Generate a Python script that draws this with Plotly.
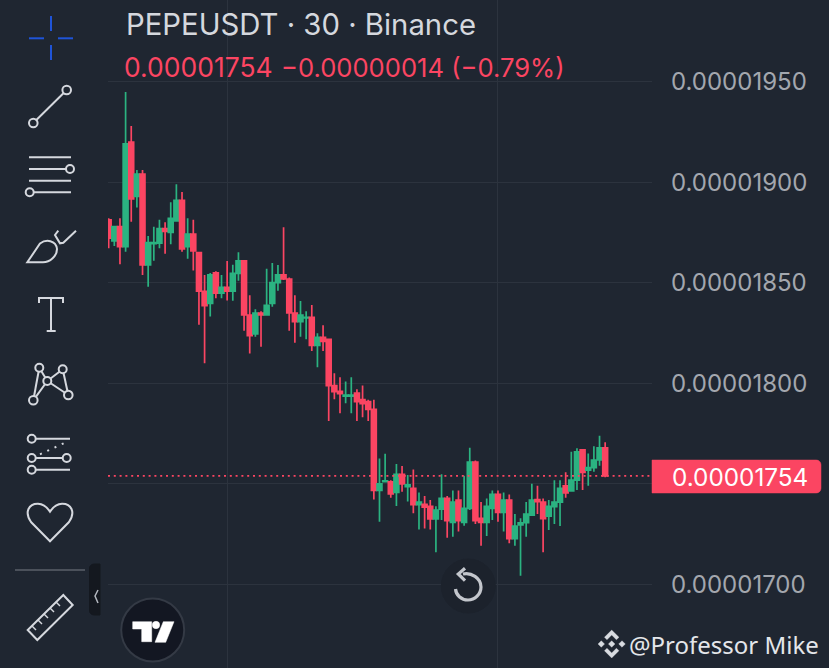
import numpy as np
import plotly.graph_objects as go

# prices below are in units of 0.00000001
open_ = [1881.3, 1870.8, 1877.9, 1868.0, 1920.0, 1892.9, 1904.1, 1858.9, 1869.5, 1869.7, 1877.0, 1875.0, 1880.8,
         1891.0, 1868.0, 1874.2, 1865.0, 1845.8, 1839.8, 1854.9, 1844.8, 1847.8, 1845.8, 1854.7, 1860.9, 1834.0,
         1824.6, 1835.0, 1834.0, 1839.8, 1850.1, 1853.9, 1851.9, 1835.0, 1830.7, 1832.5, 1832.8, 1818.9, 1822.9,
         1821.9, 1798.9, 1796.1, 1793.7, 1793.7, 1795.2, 1791.9, 1790.9, 1787.1, 1746.8, 1751.2, 1751.1, 1745.8,
         1754.8, 1748.6, 1747.8, 1739.7, 1739.8, 1738.9, 1732.6, 1737.5, 1742.8, 1730.9, 1742.0, 1730.9, 1737.9,
         1760.9, 1732.9, 1730.9, 1737.9, 1744.8, 1735.9, 1742.0, 1722.8, 1729.7, 1730.7, 1734.5, 1742.2, 1741.0,
         1734.0, 1738.7, 1741.0, 1749.1, 1746.6, 1751.9, 1766.9, 1756.9, 1758.1, 1761.9, 1768.0]
high = [1882.1, 1877.9, 1882.1, 1944.9, 1928.0, 1906.1, 1906.1, 1873.3, 1877.9, 1881.3, 1880.1, 1890.0, 1899.0,
        1895.2, 1882.1, 1881.3, 1865.4, 1853.9, 1854.9, 1855.7, 1853.9, 1860.9, 1859.0, 1865.2, 1860.9, 1843.8,
        1836.8, 1835.8, 1857.0, 1859.8, 1858.8, 1877.6, 1852.7, 1843.8, 1840.9, 1835.8, 1839.0, 1824.9, 1828.9,
        1821.9, 1805.0, 1803.0, 1800.9, 1803.0, 1797.1, 1798.9, 1791.9, 1791.9, 1762.7, 1765.0, 1751.9, 1759.9,
        1758.9, 1754.4, 1757.2, 1745.8, 1744.0, 1742.0, 1738.9, 1754.8, 1744.0, 1746.8, 1746.8, 1754.1, 1768.0,
        1761.7, 1741.0, 1742.8, 1746.8, 1746.8, 1745.8, 1744.8, 1735.0, 1732.9, 1741.0, 1750.1, 1749.1, 1742.8,
        1742.0, 1751.9, 1751.9, 1755.8, 1766.0, 1767.7, 1766.9, 1765.2, 1768.8, 1774.0, 1770.7]
low = [1867.2, 1868.3, 1859.2, 1865.4, 1880.4, 1887.4, 1853.9, 1848.1, 1861.0, 1867.2, 1864.4, 1869.2, 1880.8,
       1865.4, 1862.0, 1856.1, 1829.1, 1810.0, 1833.2, 1842.3, 1842.3, 1841.2, 1841.1, 1851.0, 1826.2, 1814.9,
       1823.2, 1818.2, 1834.0, 1838.1, 1846.1, 1851.4, 1826.2, 1820.2, 1823.2, 1822.0, 1816.1, 1808.0, 1816.1,
       1781.3, 1792.1, 1785.1, 1790.1, 1785.1, 1781.3, 1783.1, 1781.3, 1742.3, 1731.2, 1751.1, 1743.2, 1739.0,
       1746.1, 1741.3, 1735.4, 1727.4, 1727.9, 1727.4, 1716.0, 1732.1, 1723.3, 1723.8, 1726.3, 1729.2, 1737.0,
       1730.1, 1719.3, 1724.1, 1732.1, 1731.2, 1726.3, 1720.5, 1719.3, 1704.4, 1723.8, 1734.5, 1735.0, 1716.0,
       1727.1, 1730.1, 1729.1, 1743.2, 1747.0, 1747.0, 1747.0, 1749.1, 1756.1, 1759.1, 1753.3]
close = [1872.2, 1877.9, 1868.0, 1919.1, 1891.7, 1904.1, 1858.9, 1870.0, 1870.0, 1877.0, 1875.5, 1882.1, 1891.0,
         1866.9, 1874.2, 1865.9, 1845.8, 1838.7, 1853.9, 1844.8, 1847.8, 1845.8, 1854.7, 1860.9, 1834.0, 1823.7,
         1835.0, 1834.0, 1838.8, 1850.1, 1853.9, 1851.9, 1835.0, 1830.7, 1834.0, 1832.8, 1818.9, 1822.9, 1820.9,
         1798.9, 1795.9, 1794.9, 1794.2, 1794.2, 1790.9, 1789.9, 1787.1, 1746.8, 1750.1, 1751.6, 1745.0, 1754.8,
         1750.0, 1749.5, 1739.7, 1741.0, 1738.5, 1732.6, 1737.0, 1742.8, 1731.7, 1741.0, 1731.7, 1737.9, 1760.9,
         1731.7, 1730.9, 1738.9, 1744.8, 1735.9, 1742.0, 1722.8, 1729.1, 1730.7, 1735.0, 1742.0, 1741.2, 1732.7,
         1738.9, 1741.0, 1747.8, 1745.6, 1751.9, 1766.0, 1755.8, 1758.1, 1761.9, 1768.0, 1754.0]
price_ticks = [1700, 1750, 1800, 1850, 1900, 1950]
price_labels = ["0.00001700", "", "0.00001800", "0.00001850", "0.00001900", "0.00001950"]
time_grid = [21, 69]
last_price = 1754

bg = "#1f2631"
grid = "#2c333e"
red = "#fb4562"
green = "#2bb381"
icon = "#d5d8de"
font = "Inter"

x = list(range(len(close)))
unit = 1e-8

fig = go.Figure()
fig.add_trace(go.Candlestick(
    x=x,
    open=np.array(open_) * unit,
    high=np.array(high) * unit,
    low=np.array(low) * unit,
    close=np.array(close) * unit,
    increasing=dict(line=dict(color=green, width=1.7), fillcolor=green),
    decreasing=dict(line=dict(color=red, width=1.7), fillcolor=red),
    whiskerwidth=0,
    showlegend=False,
))

# second pair of axes covers the whole page in pixels, used for the app toolbar
shapes = []


def line(x0, y0, x1, y1, color=icon, width=2, dash="solid"):
    shapes.append(dict(type="line", xref="x2", yref="y2", x0=x0, y0=y0, x1=x1, y1=y1,
                       line=dict(color=color, width=width, dash=dash)))


def ring(cx, cy, r, fill=bg, color=icon, width=2):
    shapes.append(dict(type="circle", xref="x2", yref="y2", x0=cx - r, y0=cy - r, x1=cx + r, y1=cy + r,
                       fillcolor=fill, line=dict(color=color, width=width)))


def path(d, fill="rgba(0,0,0,0)", color=icon, width=2):
    shapes.append(dict(type="path", xref="x2", yref="y2", path=d, fillcolor=fill,
                       line=dict(color=color, width=width)))


# dotted last price line
shapes.append(dict(type="line", xref="x", yref="y", x0=-0.12, x1=96.3,
                   y0=last_price * unit, y1=last_price * unit,
                   line=dict(color=red, width=1.7, dash="2px,3.8px")))

# crosshair
for a, b in [(16, 31), (45, 60)]:
    line(51, a, 51, b, color="#1f54d8", width=2)
for a, b in [(29, 44), (58, 73)]:
    line(a, 38.3, b, 38.3, color="#1f54d8", width=2)
# trend line
line(33.3, 123, 66.7, 90)
ring(66.7, 90, 4.3)
ring(33.3, 123, 4.3)
# fib lines
line(29, 157.3, 71, 157.3)
line(29, 169, 68, 169)
line(29, 180.7, 71, 180.7)
line(33, 192.3, 71, 192.3)
ring(70, 169, 4)
ring(29.7, 192.3, 4)
# brush
path("M27.3,262.3 L40,243.5 C46,239 56,240 57,249 C57,256 50,262.3 43,262.3 Z")
path("M58.3,230.7 L55,235 L60,243.3 L63.3,242.7 L76,230.7")
# text
path("M39,303 L39,298 L63,298 L63,303")
line(51, 298, 51, 331)
line(46.7, 331, 55.7, 331)
# pattern
for a, b, c, d in [(39.3, 367.7, 33.3, 400.3), (39.3, 367.7, 47.3, 381), (33.3, 400.3, 47.3, 381),
                   (47.3, 381, 62.7, 369.3), (47.3, 381, 68.3, 395), (62.7, 369.3, 68.3, 395)]:
    line(a, b, c, d)
ring(39.3, 367.7, 4)
ring(62.7, 369.3, 4)
ring(47.3, 381, 4)
ring(33.3, 400.3, 4.3)
ring(68.3, 395, 4.3)
# forecast lines
line(36, 438.7, 70, 438.7)
line(36, 458, 62, 458)
line(36, 469.7, 70, 469.7)
line(40, 454.3, 65, 442.7, dash="2px,6px")
ring(31.7, 438.7, 4)
ring(31.7, 458, 4)
ring(66.7, 458, 4)
ring(31.7, 469.7, 4)
# heart
path("M50,541.3 L31,522 C24,512 29,503.5 38,503.7 C43,504 47,507 50,511.7 "
     "C53,507 57,504 62,503.7 C71,503.5 76,512 69,522 Z")
# separator
line(15, 570, 85, 570, color="#4b515b", width=2)
# ruler
path("M63.3,595 L72.7,605 L37.3,640 L27.7,630 Z")
for a, b, c, d in [(56, 602, 60, 606), (50, 608, 54, 612), (44, 614, 48, 618), (38, 620, 42, 624), (32, 626, 36, 630)]:
    line(a, b, c, d, width=1.5)
# collapse tab
path("M100,564 L95,564 C91,564 89.5,566 89.5,569 L89.5,610 C89.5,613 91,615 95,615 L100,615 Z",
     fill="#14181f", color="#14181f", width=1)
path("M98,590 L95,596 L98,603", color="#b4b8bf", width=1.5)
# logo button
ring(152.7, 630, 31.5, fill="#131722", color="#343a45", width=2)
path("M132.7,621.7 L151.7,621.7 L151.7,641.7 L141.7,641.7 L141.7,629 L132.7,629 Z", fill="#ffffff", color="#ffffff", width=0.5)
ring(156, 625, 3.7, fill="#ffffff", color="#ffffff", width=0.5)
path("M163.3,621.7 L174,621.7 L165.7,642.3 L155,642.3 Z", fill="#ffffff", color="#ffffff", width=0.5)
# replay button
ring(468.3, 586, 27, fill="#1c222c", color="#1c222c", width=1)
path("M463,574 C471,572 481,578 481,587 C481,594 475,600 468,600 C461,600 456,595 455.5,589",
     color="#c3c6cc", width=3.2)
path("M465,568.3 L458.3,574 L465,580.7", color="#c3c6cc", width=3.2)
# last price box
path("M652,460 L816,460 C819,460 821,462 821,465 L821,488 C821,491 819,493 816,493 L652,493 Z",
     fill=red, color=red, width=0.5)
# watermark diamonds
wm = "#d8dbe0"
for cx, cy in [(601.3, 644), (611.7, 644), (622, 644)]:
    path(f"M{cx - 3.3},{cy} L{cx},{cy - 3.3} L{cx + 3.3},{cy} L{cx},{cy + 3.3} Z", fill=wm, color=wm, width=0.3)
path("M611.7,630 L619,637.3 L616.4,639.8 L611.7,635 L607,639.8 L604.4,637.3 Z", fill=wm, color=wm, width=0.3)
path("M611.7,658 L619,650.7 L616.4,648.2 L611.7,653 L607,648.2 L604.4,650.7 Z", fill=wm, color=wm, width=0.3)


def text(x0, y0, s, size, color, anchor="left", family=font):
    return dict(xref="x2", yref="y2", x=x0, y=y0, text=s, showarrow=False, xanchor=anchor, yanchor="middle",
                font=dict(family=family, size=size, color=color))


annotations = [
    text(124, 24, "PEPEUSDT · 30 · Binance", 29.3, "#d5d8de"),
    text(122, 67, "0.00001754", 26.5, red),
    text(279, 67, "−0.00000014 (−0.79%)", 25.6, red),
    text(810, 476.5, "0.00001754", 24.3, "#ffffff", anchor="right"),
    text(821, 644, "@Professor Mike", 24, "#e4e6ea", anchor="right", family="Noto Sans"),
]

fig.update_layout(
    width=829,
    height=668,
    margin=dict(l=0, r=0, t=0, b=0),
    paper_bgcolor=bg,
    plot_bgcolor="rgba(0,0,0,0)",
    dragmode=False,
    boxgap=0.14,
    boxgroupgap=0,
    shapes=shapes,
    annotations=annotations,
    xaxis=dict(domain=[108 / 829, 652 / 829], range=[-0.12, 96.3], tickvals=time_grid, showticklabels=False,
               ticks="", showgrid=True, gridcolor=grid, gridwidth=1.3, zeroline=False, rangeslider=dict(visible=False),
               anchor="y"),
    yaxis=dict(domain=[0, 1], range=[1658.5 * unit, 1990.6 * unit], side="right", anchor="x",
               tickvals=[p * unit for p in price_ticks], ticktext=price_labels, ticklabelstandoff=18,
               ticks="", tickfont=dict(family=font, size=24, color="#a3a7ae"),
               showgrid=True, gridcolor=grid, gridwidth=1.3, zeroline=False),
    xaxis2=dict(domain=[0, 1], range=[0, 829], anchor="y2", visible=False),
    yaxis2=dict(domain=[0, 1], range=[668, 0], anchor="x2", visible=False),
)

fig.write_html("out.html", config=dict(displayModeBar=False),
               post_script="document.body.style.margin='0';document.body.style.overflow='hidden';")
